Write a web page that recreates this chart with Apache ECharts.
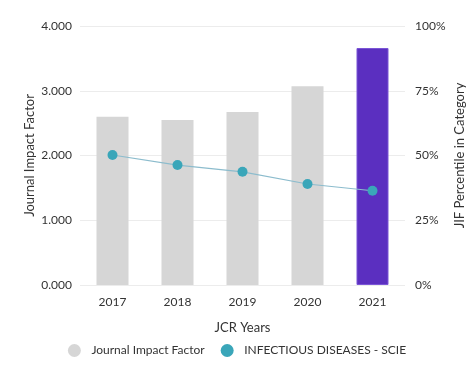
<!DOCTYPE html>
<html><head><meta charset="utf-8">
<script src="https://cdn.jsdelivr.net/npm/echarts@6/dist/echarts.min.js"></script>
<style>html,body{margin:0;padding:0;background:#fff}#c{width:474px;height:365px}</style>
</head><body><div id="c"></div>
<script>
const years = ['2017','2018','2019','2020','2021'];
const jif = [2.60, 2.55, 2.67, 3.07, 3.66];
const percentile = [50.2, 46.3, 43.7, 39.0, 36.4];
const leftTicks = [0, 1, 2, 3, 4];
const rightTicks = [0, 25, 50, 75, 100];

const font = 'Lato';
const chart = echarts.init(document.getElementById('c'), null, {renderer: 'canvas'});
chart.setOption({
  animation: false,
  textStyle: {fontFamily: font},
  grid: {left: 80, right: 69, top: 26, bottom: 80},
  legend: {
    bottom: 3, left: 'center', itemGap: 16, icon: 'circle', itemWidth: 24, itemHeight: 13,
    symbolKeepAspect: true,
    textStyle: {fontFamily: font, fontSize: 12, color: '#333'},
    data: [
      {name: 'Journal Impact Factor', itemStyle: {color: '#d6d6d6'}},
      {name: 'INFECTIOUS DISEASES - SCIE', itemStyle: {color: '#3aa6b9'}}
    ]
  },
  xAxis: {
    type: 'category', data: years,
    name: 'JCR Years', nameLocation: 'middle', nameGap: 36,
    nameTextStyle: {fontSize: 13, color: '#333', fontFamily: font},
    axisLine: {show: false}, axisTick: {show: false},
    axisLabel: {color: '#333', fontSize: 12, margin: 11, fontFamily: font}
  },
  yAxis: [
    {
      type: 'value', min: leftTicks[0], max: leftTicks[leftTicks.length-1], interval: 1,
      name: 'Journal Impact Factor', nameLocation: 'middle', nameGap: 44, nameMoveOverlap: false,
      nameTextStyle: {fontSize: 13, color: '#333', fontFamily: font},
      axisLabel: {formatter: v => v.toFixed(3), color: '#333', fontSize: 12, margin: 8, fontFamily: font},
      splitLine: {lineStyle: {color: '#ececec'}},
      axisLine: {show: false}, axisTick: {show: false}
    },
    {
      type: 'value', min: rightTicks[0], max: rightTicks[rightTicks.length-1], interval: 25,
      name: 'JIF Percentile in Category', nameLocation: 'middle', nameGap: 48, nameRotate: 90,
      nameMoveOverlap: false,
      nameTextStyle: {fontSize: 13, color: '#333', fontFamily: font},
      axisLabel: {formatter: v => v + '%', color: '#333', fontSize: 12, margin: 10, fontFamily: font},
      splitLine: {show: false},
      axisLine: {show: false}, axisTick: {show: false}
    }
  ],
  series: [
    {
      name: 'Journal Impact Factor', type: 'bar', yAxisIndex: 0, barWidth: 32,
      data: jif.map((v, i) => ({value: v, itemStyle: i === jif.length-1 ? {color: '#5b2fc0', borderColor: '#7a55d6', borderWidth: 1} : {color: '#d6d6d6'}})),
      itemStyle: {color: '#d6d6d6'}
    },
    {
      name: 'INFECTIOUS DISEASES - SCIE', type: 'line', yAxisIndex: 1,
      data: percentile, symbol: 'circle', symbolSize: 10,
      lineStyle: {color: '#8cbccd', width: 1.2},
      itemStyle: {color: '#3aa6b9'}
    }
  ]
});
</script></body></html>
